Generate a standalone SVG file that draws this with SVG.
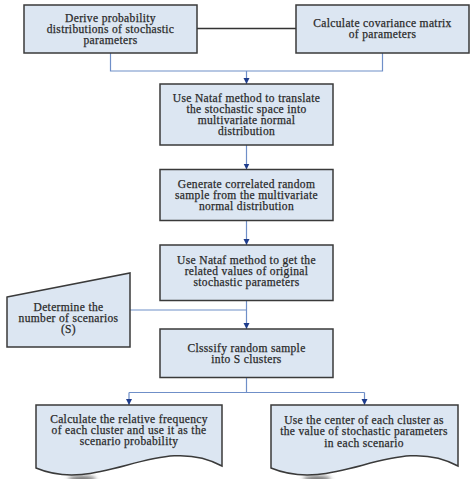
<svg xmlns="http://www.w3.org/2000/svg" width="474" height="479" viewBox="0 0 474 479">
<style>
.box{fill:#dce6f2;stroke:#3a3a3a;stroke-width:1.5}
.t{font-family:"Liberation Serif","Times New Roman",serif;font-size:11.5px;fill:#2a2a2a;stroke:#2a2a2a;stroke-width:0.25;text-anchor:middle;letter-spacing:0.35px}
.c{fill:none;stroke:#6f8fc8;stroke-width:1.2}
.k{fill:none;stroke:#333;stroke-width:1.3}
</style>
<defs>
<marker id="ah" viewBox="0 0 10 10" refX="10" refY="5" markerWidth="6" markerHeight="7" markerUnits="userSpaceOnUse" orient="auto">
<path d="M0,0 L10,5 L0,10 Z" fill="#1e3c8c"/>
</marker>
<filter id="blur" x="-50%" y="-50%" width="200%" height="200%"><feGaussianBlur stdDeviation="2"/></filter>
</defs>
<rect width="474" height="479" fill="#ffffff"/>
<g id="connectors">
<path class="k" d="M197,28.5 H296"/>
<path class="c" d="M110.5,53 V71 H382.5 V53"/>
<path class="c" d="M246.5,71 V84" marker-end="url(#ah)"/>
<path class="c" d="M246.5,145 V169.5" marker-end="url(#ah)"/>
<path class="c" d="M246.5,220.5 V245" marker-end="url(#ah)"/>
<path class="c" d="M130,310 H246.5"/>
<path class="c" d="M246.5,300.5 V329" marker-end="url(#ah)"/>
<path class="c" d="M246.5,377.5 V392.5 M129,392.5 H364.5"/>
<path class="c" d="M129,392.5 V405" marker-end="url(#ah)"/>
<path class="c" d="M364.5,392.5 V405" marker-end="url(#ah)"/>
</g>
<g id="n1">
<rect class="box" x="24" y="5" width="173" height="48"/>
<text class="t" x="110.5" y="21.5">Derive probability</text>
<text class="t" x="110.5" y="32.5">distributions of stochastic</text>
<text class="t" x="110.5" y="43.5">parameters</text>
</g>
<g id="n2">
<rect class="box" x="296" y="5" width="173" height="48"/>
<text class="t" x="382.5" y="27">Calculate covariance matrix</text>
<text class="t" x="382.5" y="38">of parameters</text>
</g>
<g id="n3">
<rect class="box" x="160" y="84" width="173" height="61"/>
<text class="t" x="246.5" y="102">Use Nataf method to translate</text>
<text class="t" x="246.5" y="113">the stochastic space into</text>
<text class="t" x="246.5" y="124">multivariate normal</text>
<text class="t" x="246.5" y="135">distribution</text>
</g>
<g id="n4">
<rect class="box" x="160" y="169.5" width="173" height="51"/>
<text class="t" x="246.5" y="188">Generate correlated random</text>
<text class="t" x="246.5" y="199">sample from the multivariate</text>
<text class="t" x="246.5" y="210">normal distribution</text>
</g>
<g id="n5">
<rect class="box" x="160" y="245" width="173" height="55.5"/>
<text class="t" x="246.5" y="264">Use Nataf method to get the</text>
<text class="t" x="246.5" y="275">related values of original</text>
<text class="t" x="246.5" y="286">stochastic parameters</text>
</g>
<g id="n7">
<polygon class="box" points="7,297 130,273 130,347 7,347"/>
<text class="t" x="68.5" y="311">Determine the</text>
<text class="t" x="68.5" y="322">number of scenarios</text>
<text class="t" x="68.5" y="333">(S)</text>
</g>
<g id="n6">
<rect class="box" x="160" y="329" width="173" height="48.5"/>
<text class="t" x="246.5" y="352">Clsssify random sample</text>
<text class="t" x="246.5" y="363">into S clusters</text>
</g>
<g id="n8">
<ellipse cx="82" cy="479" rx="14" ry="3" fill="#666" filter="url(#blur)"/>
<path class="box" d="M36,405 H222 V466 C160,432 100,495 36,468 Z"/>
<text class="t" x="129" y="423">Calculate the relative frequency</text>
<text class="t" x="129" y="434">of each cluster and use it as the</text>
<text class="t" x="129" y="445">scenario probability</text>
</g>
<g id="n9">
<ellipse cx="317" cy="479" rx="14" ry="3" fill="#666" filter="url(#blur)"/>
<path class="box" d="M271,405 H458 V466 C396,432 336,495 271,468 Z"/>
<text class="t" x="364" y="424">Use the center of each cluster as</text>
<text class="t" x="364" y="435">the value of stochastic parameters</text>
<text class="t" x="364" y="446.5">in each scenario</text>
</g>
</svg>
